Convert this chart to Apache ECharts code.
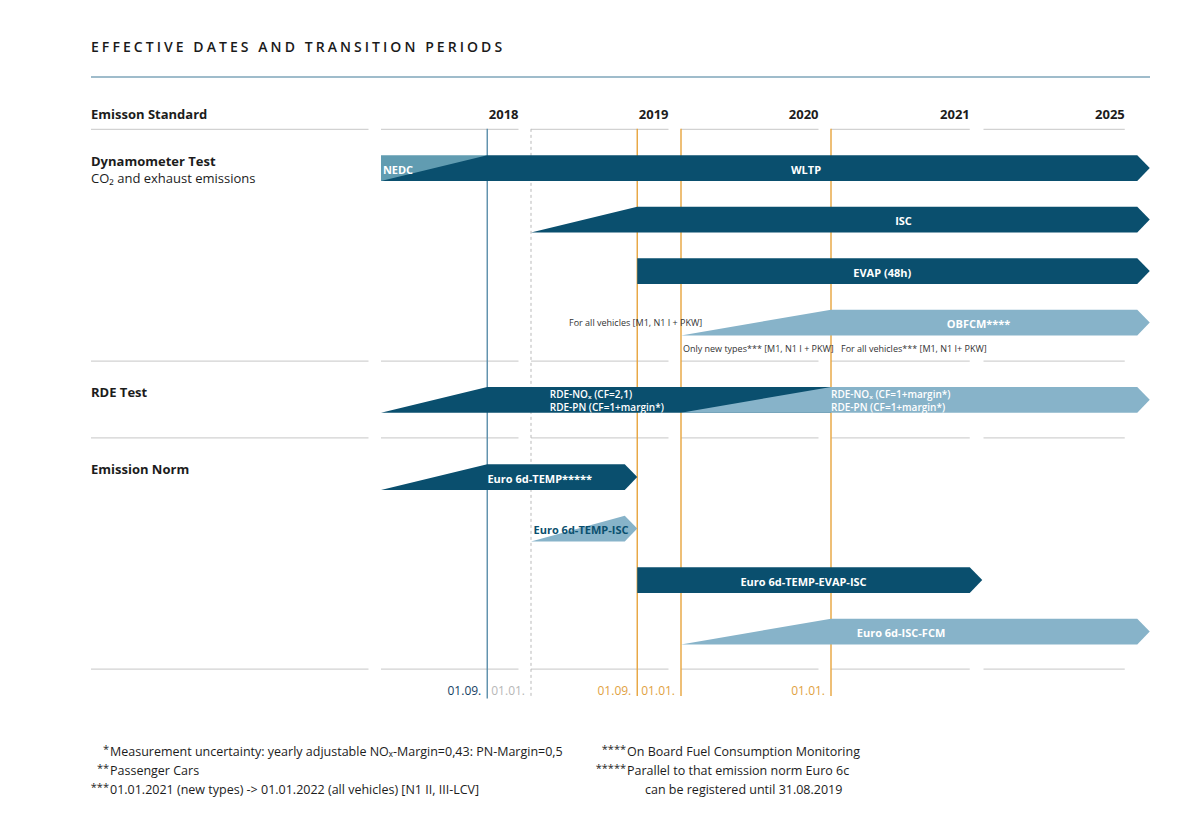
<!DOCTYPE html>
<html><head><meta charset="utf-8">
<script src="https://cdn.jsdelivr.net/npm/echarts@6/dist/echarts.min.js"></script>
<style>html,body{margin:0;padding:0;background:#fff}#chart{width:1200px;height:832px}</style>
</head><body><div id="chart"></div>
<script>
// ---------------- data ----------------
const TITLE = 'EFFECTIVE DATES AND TRANSITION PERIODS';
const years = ['2018', '2019', '2020', '2021', '2025'];
const yearColStart = [0, 12, 24, 36, 48.2];
const yearColEnd = [11, 23, 35, 47.1, 59.5];
const labelColStart = -23.2;
const labelColEnd = -1;
const separatorRows = [-0.75, 3.75, 5.24, 9.73];

const sectionTexts = ['Emisson Standard', 'Dynamometer Test', 'CO₂ and exhaust emissions', 'RDE Test', 'Emission Norm'];
const sectionRows = [-1.05, -0.14, 0.2, 4.35, 5.84];
const sectionBold = [true, true, false, true, true];

const barNames = ['NEDC', 'WLTP', 'ISC', 'EVAP (48h)', 'OBFCM****',
  'RDE-NOₓ (CF=2,1)\nRDE-PN (CF=1+margin*)', 'RDE-NOₓ (CF=1+margin*)\nRDE-PN (CF=1+margin*)',
  'Euro 6d-TEMP*****', 'Euro 6d-TEMP-ISC', 'Euro 6d-TEMP-EVAP-ISC', 'Euro 6d-ISC-FCM'];
const barRows  = [0, 0, 1, 2, 3, 4.5, 4.5, 6, 7, 8, 9];
const barStart = [0, 0, 12, 20.5, 24, 0, 24, 0, 12, 20.5, 24];
const barFull  = [0, 8.5, 20.5, 20.5, 36, 8.5, 36, 8.5, 19.5, 20.5, 36];
const barEnd   = [8.5, 61.5, 61.5, 61.5, 61.5, 36, 61.5, 20.5, 20.5, 48.1, 61.5];
const barArrow = [false, true, true, true, true, false, true, true, true, true, true];
const barTone  = ['teal', 'dark', 'dark', 'dark', 'light', 'dark', 'light', 'dark', 'light', 'dark', 'light'];
const labelAt  = [0.15, 34, 41.8, 40.1, 47.8, 13.5, 36, 12.7, 16, 33.8, 41.6];
const labelAlign = ['left', 'center', 'center', 'center', 'center', 'left', 'left', 'center', 'center', 'center', 'center'];

const noteTexts = ['For all vehicles [M1, N1 I + PKW]', 'Only new types*** [M1, N1 I + PKW]', 'For all vehicles*** [M1, N1 I+ PKW]'];
const noteX = [25.7, 24.15, 36.8];
const noteRows = [3, 3.5, 3.5];
const noteAlign = ['right', 'left', 'left'];

const markerX = [8.5, 12, 20.5, 24, 36];
const markerFrom = [-0.76, -0.76, -0.76, -0.76, -0.76];
const markerTo = [10.3, 10.25, 10.25, 10.25, 10.25];
const markerKind = ['blue', 'grey', 'orange', 'orange', 'orange'];
const markerDates = ['01.09.', '01.01.', '01.09.', '01.01.', '01.01.'];
const dateRow = 10.15;

const footStarsLeft = ['*', '**', '***'];
const footTextsLeft = ['Measurement uncertainty: yearly adjustable NOₓ-Margin=0,43: PN-Margin=0,5', 'Passenger Cars', '01.01.2021 (new types) -> 01.01.2022 (all vehicles) [N1 II, III-LCV]'];
const footStarsRight = ['****', '*****', ''];
const footTextsRight = ['On Board Fuel Consumption Monitoring', 'Parallel to that emission norm Euro 6c', 'can be registered until 31.08.2019'];

// ---------------- styles ----------------
const TONE = { dark: '#0a4f6e', teal: '#619cb1', light: '#87b3c9' };
const MARK = { blue: '#5a8eaa', grey: '#b9b9b9', orange: '#e7a43d' };
const DATECOL = { blue: '#163f63', grey: '#b7b7b7', orange: '#dfa23f' };
const FONT = '"Open Sans", "Noto Sans", sans-serif';
const NARROW = '"Liberation Sans Narrow", "Open Sans", sans-serif';
const TEXT = '#1c1c1c';
const ARROW = 1;
const HALF = 0.25;

// ---------------- derived tables ----------------
const segStarts = [labelColStart].concat(yearColStart);
const segEnds = [labelColEnd].concat(yearColEnd);
const sepData = [];
separatorRows.forEach(r => segStarts.forEach((s, j) => sepData.push([s, segEnds[j], r])));

const textItems = [];
years.forEach((y, j) => textItems.push({ v: [yearColEnd[j], -1.05], text: y, align: 'right', size: 13, weight: 'bold', color: TEXT, font: FONT }));
sectionTexts.forEach((t, j) => textItems.push({ v: [labelColStart, sectionRows[j]], text: t, align: 'left', size: 13, weight: sectionBold[j] ? 'bold' : 'normal', color: TEXT, font: FONT }));
noteTexts.forEach((t, j) => textItems.push({ v: [noteX[j], noteRows[j]], text: t, align: noteAlign[j], size: 9, weight: 'normal', color: '#333', font: FONT }));
markerDates.forEach((t, j) => textItems.push({ v: [markerX[j] - 0.48, dateRow], text: t, align: 'right', size: 12, weight: 'normal', color: DATECOL[markerKind[j]], font: FONT }));

const footGraphics = [];
const footY = [751, 770, 789];
footTextsLeft.forEach((t, j) => {
  footGraphics.push({ type: 'text', x: 109, y: footY[j] - 3, style: { text: footStarsLeft[j], fill: TEXT, font: '11px ' + NARROW, textAlign: 'right', textVerticalAlign: 'middle' } });
  footGraphics.push({ type: 'text', x: 110, y: footY[j], style: { text: t, fill: TEXT, font: '12.5px ' + NARROW, textAlign: 'left', textVerticalAlign: 'middle' } });
});
footTextsRight.forEach((t, j) => {
  footGraphics.push({ type: 'text', x: 626, y: footY[j] - 3, style: { text: footStarsRight[j], fill: TEXT, font: '11px ' + NARROW, textAlign: 'right', textVerticalAlign: 'middle' } });
  footGraphics.push({ type: 'text', x: footStarsRight[j] ? 627 : 645, y: footY[j], style: { text: t, fill: TEXT, font: '12.5px ' + NARROW, textAlign: 'left', textVerticalAlign: 'middle' } });
});

// ---------------- chart ----------------
const chart = echarts.init(document.getElementById('chart'), null, { renderer: 'svg' });

const option = {
  animation: false,
  backgroundColor: '#fff',
  grid: { left: 81, width: 1100, top: 65, height: 669.5 },
  xAxis: { type: 'value', min: -24, max: 64, show: false },
  yAxis: { type: 'value', min: -2, max: 11, inverse: true, show: false },
  graphic: [
    { type: 'text', id: 'title', x: 91, y: 46, style: { text: TITLE, fill: '#1a1a1a', font: '600 14px ' + FONT, textAlign: 'left', textVerticalAlign: 'middle' } },
    { type: 'line', shape: { x1: 91, y1: 77, x2: 1150, y2: 77 }, style: { stroke: '#7fa6ba', lineWidth: 1.5 } }
  ].concat(footGraphics),
  series: [
    { // separators
      type: 'custom', silent: true, z: 1, data: sepData, encode: { x: [0, 1], y: 2 },
      renderItem: (p, api) => {
        const a = api.coord([api.value(0), api.value(2)]);
        const b = api.coord([api.value(1), api.value(2)]);
        return { type: 'line', shape: { x1: a[0], y1: a[1], x2: b[0], y2: b[1] }, style: { stroke: '#d2d2d2', lineWidth: 1.2 } };
      }
    },
    { // vertical date markers
      type: 'custom', silent: true, z: 2,
      data: markerX.map((x, i) => [x, markerFrom[i], markerTo[i]]), encode: { x: 0, y: [1, 2] },
      renderItem: (p, api) => {
        const k = markerKind[p.dataIndex];
        const a = api.coord([api.value(0), api.value(1)]);
        const b = api.coord([api.value(0), api.value(2)]);
        return { type: 'line', shape: { x1: a[0], y1: a[1], x2: b[0], y2: b[1] },
          style: { stroke: MARK[k], lineWidth: k === 'grey' ? 1 : 1.4, lineDash: k === 'grey' ? [3, 3] : null } };
      }
    },
    { // bars
      type: 'custom', silent: true, z: 3,
      data: barStart.map((s, i) => [s, barFull[i], barEnd[i], barRows[i]]), encode: { x: [0, 1, 2], y: 3 },
      renderItem: (p, api) => {
        const i = p.dataIndex;
        const s = api.value(0), f = api.value(1), e = api.value(2), r = api.value(3);
        const top = r - HALF, bot = r + HALF;
        const P = (x, y) => api.coord([x, y]);
        const pts = [P(s, bot), P(f, top)];
        if (barArrow[i]) pts.push(P(e - ARROW, top), P(e, r), P(e - ARROW, bot));
        else pts.push(P(e, top), P(e, bot));
        return { type: 'polygon', shape: { points: pts }, style: { fill: TONE[barTone[i]] } };
      }
    },
    { // bar labels
      type: 'custom', silent: true, z: 4,
      data: labelAt.map((x, i) => [x, barRows[i]]), encode: { x: 0, y: 1 },
      renderItem: (p, api) => {
        const i = p.dataIndex;
        const c = api.coord([api.value(0), api.value(1)]);
        const rde = barNames[i].indexOf('\n') >= 0;
        return { type: 'text', x: c[0], y: c[1] + 1,
          style: { text: barNames[i], fill: barTone[i] === 'light' && i === 8 ? TONE.dark : '#fff',
            fontFamily: FONT, fontSize: rde ? 10 : 11, fontWeight: rde ? 600 : 'bold', lineHeight: 13,
            align: labelAlign[i], verticalAlign: 'middle' } };
      }
    },
    { // headers, notes and dates
      type: 'custom', silent: true, z: 5,
      data: textItems.map(t => t.v), encode: { x: 0, y: 1 },
      renderItem: (p, api) => {
        const t = textItems[p.dataIndex];
        const c = api.coord([api.value(0), api.value(1)]);
        return { type: 'text', x: c[0], y: c[1],
          style: { text: t.text, fill: t.color, fontFamily: t.font, fontSize: t.size, fontWeight: t.weight,
            align: t.align, verticalAlign: 'middle' } };
      }
    }
  ]
};
chart.setOption(option);

// letter-spaced title
(function () {
  const ctx = document.createElement('canvas').getContext('2d');
  ctx.font = '600 14px ' + FONT;
  const w = ctx.measureText(TITLE).width;
  const ls = Math.max(0, (411 - w) / (TITLE.length - 1));
  document.querySelectorAll('#chart svg text').forEach(t => {
    if (t.textContent === TITLE) t.style.letterSpacing = ls.toFixed(2) + 'px';
  });
})();
</script>
</body></html>
